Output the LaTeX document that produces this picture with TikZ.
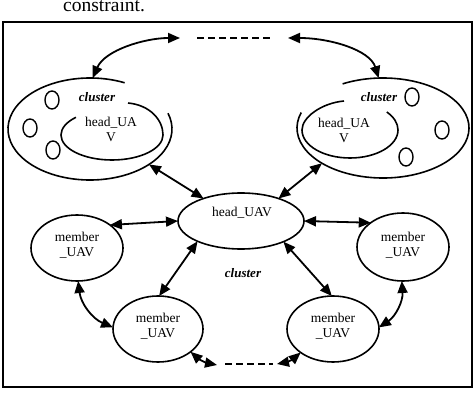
\documentclass[tikz,border=0pt]{standalone}
\usepackage{fontspec}
\setmainfont{Liberation Serif}
\usetikzlibrary{shapes.geometric,arrows.meta}
\begin{document}
\begin{tikzpicture}[x=1pt,y=-1pt,
  elln/.style={ellipse,draw,line width=1.6pt,inner sep=0pt,outer sep=0pt},
  hid/.style={ellipse,inner sep=0pt,outer sep=0pt},
  smallc/.style={ellipse,draw,line width=1.4pt,inner sep=0pt,outer sep=0pt,minimum width=14pt,minimum height=18pt},
  lbl/.style={font=\fontsize{13.5}{15}\selectfont,align=center,inner sep=0pt},
  clu/.style={font=\fontsize{13}{15}\selectfont\bfseries\itshape,inner sep=0pt},
  dbl/.style={line width=1.8pt,{Triangle[length=12pt,width=10pt]}-{Triangle[length=12pt,width=10pt]}},
  dsh/.style={line width=1.8pt,dash pattern=on 7pt off 4pt},
  arcln/.style={line width=1.6pt}]
\useasboundingbox (0,0) rectangle (474,412);
\clip (0,0) rectangle (474,412);

% text outside frame
\node[anchor=base west,inner sep=0pt,font=\fontsize{19.5}{22}\selectfont] (top) at (63,12) {constraint.};
\node[anchor=base west,inner sep=0pt,font=\fontsize{15}{18}\selectfont] (cap) at (63,423) {Figure 1.\ \ Task environment for network of multi UAV};

% frame
\draw[line width=2pt] (3,22) rectangle (472,387);

% top-left cluster
\node[hid,minimum width=164pt,minimum height=102pt] (tlo) at (90,129) {};
\draw[arcln] ([shift={(65:82pt and 51pt)}]tlo.center) arc[start angle=65,end angle=378,x radius=82pt,y radius=51pt];
\node[hid,minimum width=102pt,minimum height=50pt] (tli) at (112,135) {};
\draw[arcln] (128,103) .. controls (150,105) and (163,120) .. ([shift={(0:51pt and 25pt)}]tli.center) arc[start angle=0,end angle=-225,x radius=51pt,y radius=25pt];
\node[smallc] (c1) at (52,100) {};
\node[smallc] (c2) at (30,128) {};
\node[smallc] (c3) at (53,150) {};
\node[clu] (cl1) at (97,97) {cluster};
\node[lbl] (h1) at (111,129) {head\_UA\\V};

% top-right cluster
\node[hid,minimum width=172pt,minimum height=100pt] (tro) at (383,128) {};
\draw[arcln] ([shift={(118:86pt and 50pt)}]tro.center) arc[start angle=118,end angle=-198,x radius=86pt,y radius=50pt];
\node[hid,minimum width=96pt,minimum height=56pt] (tri) at (350,130) {};
\draw[arcln] (344,101) .. controls (322,103) and (302,117) .. ([shift={(180:48pt and 28pt)}]tri.center) arc[start angle=180,end angle=400,x radius=48pt,y radius=28pt];
\node[smallc] (c4) at (412,97) {};
\node[smallc] (c5) at (442,130) {};
\node[smallc] (c6) at (406,157) {};
\node[clu] (cl2) at (379,97) {cluster};
\node[lbl] (h2) at (344,130) {head\_UA\\V};

% central cluster
\node[elln,minimum width=126pt,minimum height=56pt] (head) at (241,221) {};
\node[lbl] (ht) at (242,213) {head\_UAV};
\node[clu] (cl3) at (243,273) {cluster};
\node[elln,minimum width=92pt,minimum height=66pt] (ml) at (77,248) {};
\node[lbl] (mlt) at (77,245) {member\\\_UAV};
\node[elln,minimum width=92pt,minimum height=68pt] (mr) at (403,247) {};
\node[lbl] (mrt) at (403,245) {member\\\_UAV};
\node[elln,minimum width=90pt,minimum height=66pt] (bl) at (158,329) {};
\node[lbl] (blt) at (158,326) {member\\\_UAV};
\node[elln,minimum width=92pt,minimum height=66pt] (br) at (333,329) {};
\node[lbl] (brt) at (333,326) {member\\\_UAV};

% connectors
\draw[dbl] (tlo.-31) -- (head.149);
\draw[dbl] (tro.210) -- (head.31);
\draw[dbl] (ml.35) -- (head.180);
\draw[dbl] (mr.143) -- (head.0);
\draw[dbl] (bl.88) -- (head.205);
\draw[dbl] (br.92) -- (head.-26);
\draw[dbl] (ml.-88) to[bend right=30] (bl.178);
\draw[dbl] (mr.-92) to[bend left=30] (br.2);

% top link
\coordinate (tA) at (180,38);
\coordinate (tB) at (288,38);
\coordinate (td1) at (197,38);
\coordinate (td2) at (273,38);
\draw[dbl] (tlo.87) .. controls (105,50) and (145,38) .. (tA);
\draw[dbl] (tB) .. controls (330,38) and (370,50) .. (tro.95);
\draw[dsh] (td1) -- (td2);

% bottom link
\coordinate (bA) at (217,365);
\coordinate (bB) at (277,364);
\coordinate (bd1) at (225,364);
\coordinate (bd2) at (273,364);
\draw[dbl] (bl.-35) to[bend right=15] (bA);
\draw[dbl] (bB) to[bend right=15] (br.216);
\draw[dsh] (bd1) -- (bd2);
\end{tikzpicture}
\end{document}
